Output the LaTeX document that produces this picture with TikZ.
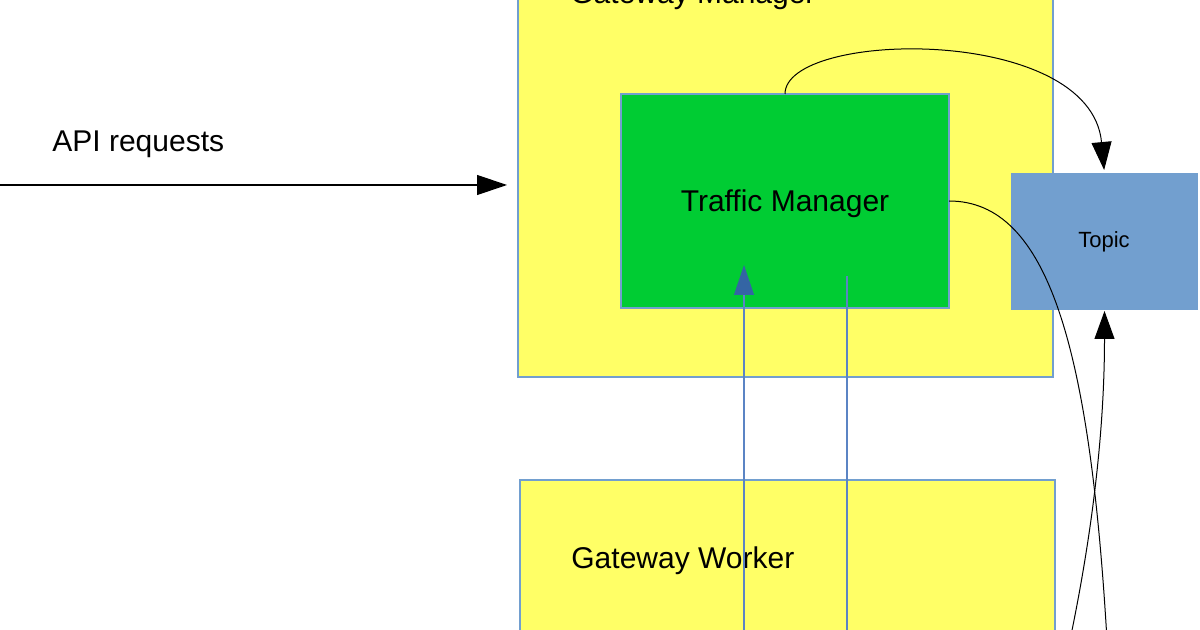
\documentclass[tikz,border=0pt]{standalone}
\usepackage{fontspec}
\setmainfont{Liberation Sans}
\usetikzlibrary{arrows.meta}
\definecolor{padyellow}{HTML}{FFFF66}
\definecolor{padgreen}{HTML}{00CC33}
\definecolor{padblue}{HTML}{729FCF}
\definecolor{edgeblue}{HTML}{5B84C4}
\definecolor{tipblue}{HTML}{3465A4}
\tikzstyle{box}=[rectangle,draw=padblue,line width=0.6pt,anchor=north west,inner sep=0pt,outer sep=0pt]
\tikzstyle{label}=[font=\fontsize{15}{18}\selectfont,inner sep=0pt]
\tikzstyle{flow}=[draw,line width=0.5pt,-{Triangle[length=14pt,width=10pt]}]
\tikzstyle{link}=[draw=edgeblue,line width=0.6pt]

\begin{document}
\begin{tikzpicture}[x=0.5pt,y=-0.5pt]
  \useasboundingbox (0,0) rectangle (1200,630);
  \clip (0,0) rectangle (1200,630);
  % boxes
  \node[box,fill=padyellow,minimum width=267.5pt,minimum height=238.5pt] (gwmanager) at (518,-100) {};
  \node[box,fill=padyellow,minimum width=267.5pt,minimum height=100pt] (gwworker) at (520,480) {};
  \node[box,fill=padgreen,minimum width=164pt,minimum height=107pt] (traffic) at (621,94) {};
  \node[box,fill=padblue,minimum width=92.5pt,minimum height=67.5pt] (topic) at (1012,174) {};
  % texts
  \node[label,anchor=base west] (gwmanagertxt) at (570,4) {Gateway Manager};
  \node[label,anchor=base west] (gwworkertxt) at (571,568) {Gateway Worker};
  \node[label] (traffictxt) at (785,204) {Traffic Manager};
  \node[font=\fontsize{11}{13}\selectfont,inner sep=0pt] (topictxt) at (1104,242) {Topic};
  \node[label,anchor=base west] (apitxt) at (52,152) {API requests};
  % incoming requests
  \coordinate (client) at (0,185);
  \path[flow,-{Triangle[length=15pt,width=10pt]},line width=0.6pt,shorten >=5.5pt]
    (client) -- (client -| gwmanager.west);
  % worker <-> traffic manager
  \coordinate (wkleft) at (744,640);
  \coordinate (tmleft) at (744,265);
  \coordinate (wkright) at (847,640);
  \coordinate (tmright) at (847,276);
  \path[link,-{Triangle[length=15pt,width=10pt,fill=tipblue,color=tipblue]}] (wkleft) -- (tmleft);
  \path[link] (tmright) -- (wkright);
  % topic traffic
  \path[flow,shorten >=2pt] (traffic.north) .. controls +(0,-64) and +(-14,-150) .. (topic.north);
  \coordinate (wkout) at (1107,640);
  \coordinate (wkin) at (1070,640);
  \path[draw,line width=0.5pt] (traffic.east) .. controls +(100,0) and +(-17,-290) .. (wkout);
  \path[flow,shorten >=1pt] (wkin) .. controls +(25,-120) and +(0,110) .. (topic.south);
\end{tikzpicture}
\end{document}
